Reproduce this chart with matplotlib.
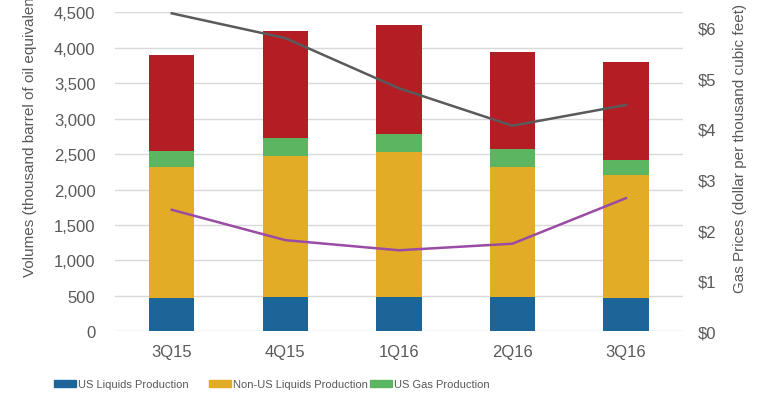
import numpy as np
import matplotlib.pyplot as plt
from matplotlib.patches import Patch
from matplotlib.ticker import FuncFormatter

plt.rcParams['font.family'] = ['Liberation Sans', 'DejaVu Sans']

quarters = ['3Q15', '4Q15', '1Q16', '2Q16', '3Q16']
us_liquids = [465, 488, 488, 488, 470]
non_us_liquids = [1852, 1988, 2040, 1829, 1734]
us_gas = [230, 245, 254, 258, 216]
non_us_gas = [1353, 1518, 1537, 1368, 1381]
price_grey = [6.28, 5.79, 4.80, 4.06, 4.47]
price_purple = [2.40, 1.80, 1.60, 1.73, 2.63]

col_blue = '#1c6599'
col_yellow = '#e3ac26'
col_green = '#5cb560'
col_red = '#b51d24'
txt = '#595959'

fig = plt.figure(figsize=(7.68, 4.02), dpi=100)
ax = fig.add_axes([0.1497, 0.1734, 0.7393, 0.7935])
x = np.arange(len(quarters))
w = 0.4

b0 = np.zeros(len(quarters))
stacks = [(us_liquids, col_blue), (non_us_liquids, col_yellow),
          (us_gas, col_green), (non_us_gas, col_red)]
for vals, c in stacks:
    ax.bar(x, vals, w, bottom=b0, color=c, zorder=2)
    b0 = b0 + np.array(vals)

ax.set_xlim(-0.5, 4.5)
ax.set_ylim(0, 4500)
ax.set_yticks(np.arange(0, 4501, 500))
ax.yaxis.set_major_formatter(FuncFormatter(lambda v, p: f'{int(v):,}'))
ax.set_xticks(x)
ax.set_xticklabels(quarters)
ax.grid(axis='y', color='#d9d9d9', linewidth=1, zorder=0)
ax.set_axisbelow(True)
for s in ax.spines.values():
    s.set_visible(False)
ax.tick_params(length=0, labelsize=12, colors=txt, pad=14)
ax.tick_params(axis='x', pad=9)

ax2 = ax.twinx()
ax2.plot(x, price_grey, color='#5a5a5a', linewidth=1.8, zorder=3)
ax2.plot(x, price_purple, color='#9a4ca5', linewidth=1.8, zorder=3)
ax2.set_ylim(0, 6.3)
ax2.set_yticks(range(0, 7))
ax2.yaxis.set_major_formatter(FuncFormatter(lambda v, p: f'${int(v)}'))
for s in ax2.spines.values():
    s.set_visible(False)
ax2.tick_params(length=0, labelsize=12, colors=txt, pad=11)

# axis titles run off the top edge, as in the original
fig.text(30 / 768, 1 - 277 / 402, 'Volumes (thousand barrel of oil equivalent per day)',
         rotation=90, ha='center', va='bottom', fontsize=11, color=txt)
fig.text(740 / 768, 1 - 293 / 402, 'Gas Prices (dollar per thousand cubic feet)',
         rotation=90, ha='center', va='bottom', fontsize=11, color=txt)

names = ['US Liquids Production', 'Non-US Liquids Production', 'US Gas Production']
cols = [col_blue, col_yellow, col_green]
xs = [54, 209, 370]
for n, c, xp in zip(names, cols, xs):
    fig.legend(handles=[Patch(color=c, label=n)], loc='center left',
               bbox_to_anchor=(xp / 768, 1 - 385 / 402), frameon=False,
               fontsize=8, handlelength=2.0, handleheight=0.6,
               handletextpad=0.2, borderpad=0, borderaxespad=0, labelcolor=txt)

fig.savefig('out.png', dpi=100)
